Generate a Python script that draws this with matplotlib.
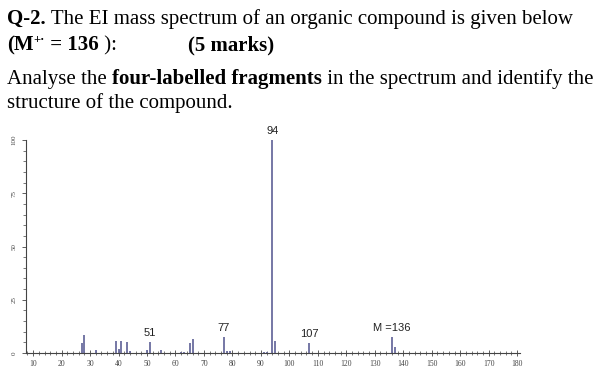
import numpy as np
import matplotlib.pyplot as plt

# peak list (m/z, relative intensity %)
mz = [27, 28, 32, 39, 40, 41, 43, 44, 50, 51, 55, 62, 63, 65, 66,
      77, 78, 79, 91, 92, 94, 95, 107, 136, 137]
intensity = [4.7, 8.3, 1.6, 5.8, 1.9, 5.5, 5.2, 0.8, 1.2, 5.0, 1.4, 0.5, 0.6, 4.7, 6.7,
             7.5, 0.8, 1.0, 0.5, 0.6, 100, 5.8, 4.7, 7.3, 2.7]
labelled = [51, 77, 94, 107, 136]
label_text = ['51', '77', '94', '107', 'M =136']
xticks = list(range(10, 181, 10))
yticks = [0, 25, 50, 75, 100]

W, H = 604, 371
fig = plt.figure(figsize=(W / 100, H / 100), dpi=100)
renderer = fig.canvas.get_renderer()

serif = 'Liberation Serif'
fs = 15.0


def runs(x_px, base_px, pieces):
    # place text pieces one after another on one baseline
    x = x_px / W
    for txt, weight, size, dy in pieces:
        t = fig.text(x, 1 - (base_px - dy) / H, txt, fontsize=size, fontweight=weight,
                     family=serif, va='baseline', ha='left')
        bb = t.get_window_extent(renderer)
        x = bb.x1 / W
    return x


runs(7, 24, [('Q-2.', 'bold', fs, 0),
             (' The EI mass spectrum of an organic compound is given below', 'normal', fs, 0)])
runs(7, 50, [('(M', 'bold', fs, 0), ('+·', 'bold', 9, 7), (' = 136', 'bold', fs, 0),
             (' ):', 'normal', fs, 0)])
runs(188, 50, [('(5 marks)', 'bold', fs, 0)])
runs(7, 84, [('Analyse the ', 'normal', fs, 0), ('four-labelled fragments', 'bold', fs, 0),
             (' in the spectrum and identify the', 'normal', fs, 0)])
runs(7, 108, [('structure of the compound.', 'normal', fs, 0)])

# spectrum axes
ax = fig.add_axes([26 / W, 1 - 353 / H, 494 / W, 213 / H])
ax.vlines(mz, 0, intensity, color='#6a6c9e', linewidth=1.3)
ax.set_xlim(7.5, 181)
ax.set_ylim(0, 100)
for s in ['top', 'right']:
    ax.spines[s].set_visible(False)
for s in ['left', 'bottom']:
    ax.spines[s].set_color('#444444')
    ax.spines[s].set_linewidth(0.8)

ax.set_xticks(xticks)
ax.set_xticks(np.arange(8, 181, 2), minor=True)
ax.set_yticks(yticks)
ax.set_yticks(np.arange(0, 101, 5), minor=True)
ax.tick_params(axis='x', which='major', direction='inout', length=4, width=0.6,
               labelsize=5.5, pad=3, colors='#444444')
ax.tick_params(axis='x', which='minor', direction='inout', length=2.5, width=0.5,
               colors='#444444')
ax.tick_params(axis='y', which='major', direction='out', length=3, width=0.6,
               labelsize=5, pad=4, colors='#444444')
ax.tick_params(axis='y', which='minor', direction='out', length=2, width=0.5,
               colors='#444444')
for lab in ax.get_xticklabels():
    lab.set_family(serif)
for lab in ax.get_yticklabels():
    lab.set_rotation(90)
    lab.set_family(serif)
    lab.set_va('center')

for m, txt in zip(labelled, label_text):
    h = intensity[mz.index(m)]
    ax.annotate(txt, (m, h), xytext=(0, 3), textcoords='offset points',
                ha='center', va='bottom', fontsize=8, family='Liberation Sans',
                color='#222222')

fig.savefig('out.png', dpi=100)
